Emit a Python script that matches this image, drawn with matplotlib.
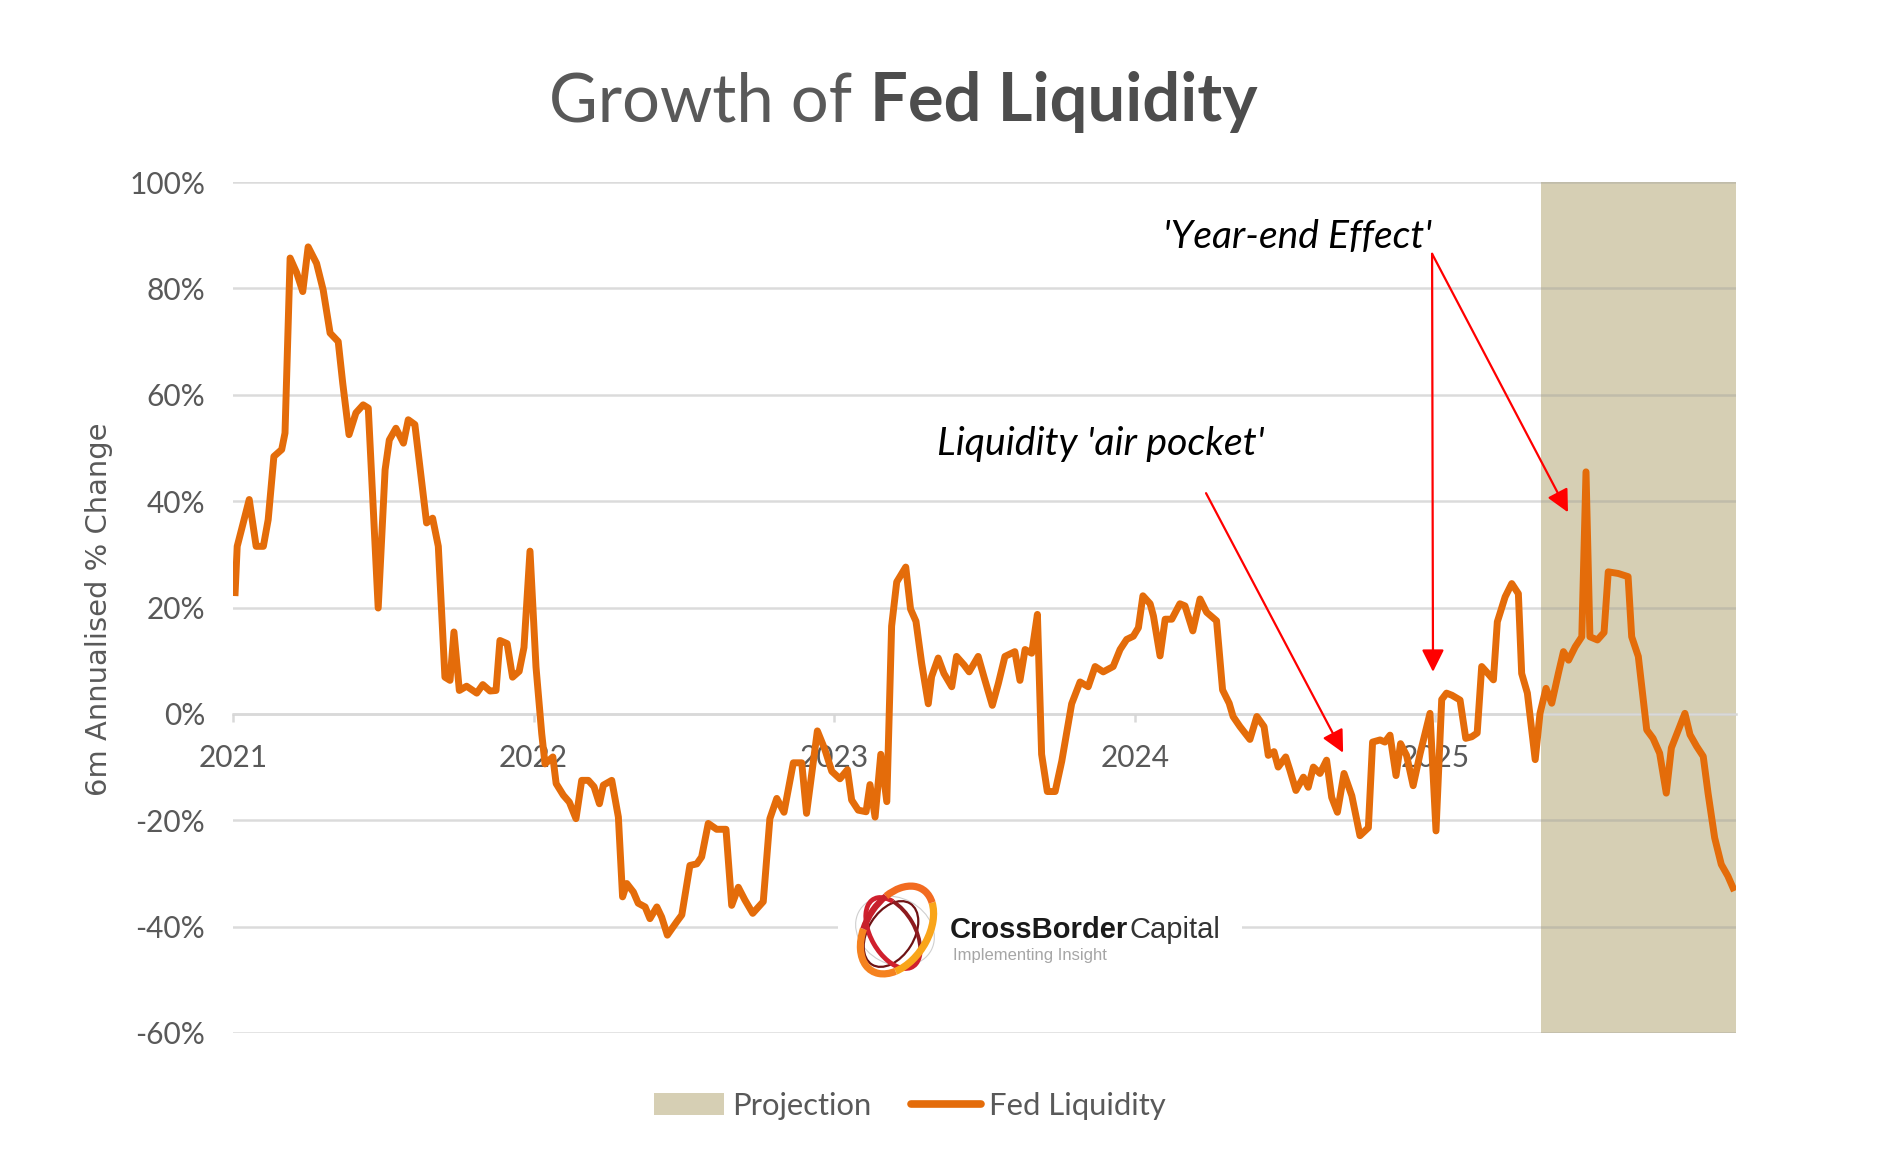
import matplotlib
matplotlib.use("Agg")
import matplotlib.pyplot as plt
from matplotlib.patches import Ellipse, Arc
from matplotlib.lines import Line2D
from matplotlib.patches import Patch

# ---------------- data ----------------
dates = [
    2021.007, 2021.014, 2021.054, 2021.077, 2021.101, 2021.117, 2021.136, 2021.162, 2021.173, 2021.190,
    2021.212, 2021.232, 2021.250, 2021.278, 2021.300, 2021.323, 2021.350, 2021.365, 2021.386, 2021.409,
    2021.433, 2021.450, 2021.483, 2021.506, 2021.520, 2021.542, 2021.567, 2021.583, 2021.605, 2021.644,
    2021.664, 2021.683, 2021.705, 2021.722, 2021.735, 2021.753, 2021.777, 2021.811, 2021.831, 2021.855,
    2021.875, 2021.888, 2021.912, 2021.930, 2021.952, 2021.968, 2021.988, 2022.008, 2022.027, 2022.038,
    2022.064, 2022.075, 2022.099, 2022.119, 2022.141, 2022.160, 2022.182, 2022.201, 2022.219, 2022.232,
    2022.260, 2022.282, 2022.296, 2022.310, 2022.332, 2022.348, 2022.371, 2022.387, 2022.410, 2022.426,
    2022.445, 2022.476, 2022.493, 2022.520, 2022.543, 2022.559, 2022.581, 2022.609, 2022.640, 2022.659,
    2022.681, 2022.703, 2022.729, 2022.764, 2022.786, 2022.809, 2022.833, 2022.864, 2022.892, 2022.908,
    2022.944, 2022.969, 2022.992, 2023.019, 2023.044, 2023.058, 2023.080, 2023.106, 2023.119, 2023.136,
    2023.155, 2023.175, 2023.191, 2023.208, 2023.238, 2023.254, 2023.272, 2023.291, 2023.313, 2023.324,
    2023.346, 2023.365, 2023.391, 2023.407, 2023.432, 2023.449, 2023.479, 2023.498, 2023.526, 2023.546,
    2023.568, 2023.601, 2023.618, 2023.635, 2023.657, 2023.676, 2023.690, 2023.709, 2023.735, 2023.757,
    2023.790, 2023.818, 2023.845, 2023.868, 2023.895, 2023.928, 2023.951, 2023.973, 2023.995, 2024.012,
    2024.027, 2024.051, 2024.062, 2024.084, 2024.101, 2024.123, 2024.150, 2024.167, 2024.193, 2024.217,
    2024.239, 2024.272, 2024.292, 2024.314, 2024.327, 2024.350, 2024.383, 2024.406, 2024.430, 2024.444,
    2024.463, 2024.477, 2024.502, 2024.516, 2024.536, 2024.561, 2024.577, 2024.594, 2024.616, 2024.638,
    2024.655, 2024.674, 2024.696, 2024.722, 2024.749, 2024.777, 2024.791, 2024.816, 2024.832, 2024.849,
    2024.869, 2024.884, 2024.904, 2024.926, 2024.949, 2024.982, 2025.002, 2025.021, 2025.037, 2025.055,
    2025.082, 2025.101, 2025.121, 2025.139, 2025.154, 2025.170, 2025.193, 2025.206, 2025.232, 2025.254,
    2025.276, 2025.287, 2025.306, 2025.332, 2025.348, 2025.368, 2025.387, 2025.409, 2025.426, 2025.443,
    2025.465, 2025.487, 2025.501, 2025.514, 2025.539, 2025.561, 2025.575, 2025.608, 2025.641, 2025.653,
    2025.675, 2025.703, 2025.724, 2025.746, 2025.768, 2025.785, 2025.830, 2025.847, 2025.869, 2025.891,
    2025.907, 2025.929, 2025.951, 2025.973, 2025.990,
]
values = [
    22.8, 31.5, 40.3, 31.5, 31.5, 36.5, 48.4, 49.7, 52.8, 85.7,
    82.9, 79.4, 87.8, 84.7, 79.7, 71.6, 70.0, 62.2, 52.5, 56.6,
    58.1, 57.5, 19.9, 45.9, 51.5, 53.7, 50.9, 55.3, 54.4, 35.9,
    36.8, 31.5, 6.9, 6.3, 15.4, 4.4, 5.2, 3.9, 5.5, 4.3,
    4.4, 13.8, 13.2, 6.9, 8.0, 12.5, 30.6, 8.8, -3.7, -9.4,
    -8.1, -13.1, -15.3, -16.6, -19.7, -12.5, -12.5, -13.7, -16.9, -13.4,
    -12.5, -19.4, -34.4, -31.9, -33.5, -35.6, -36.3, -38.5, -36.3, -38.2,
    -41.6, -39.1, -37.8, -28.5, -28.2, -26.9, -20.6, -21.7, -21.7, -36.0,
    -32.6, -35.0, -37.5, -35.3, -19.7, -15.9, -18.5, -9.2, -9.2, -18.7,
    -3.2, -6.7, -10.8, -12.2, -10.5, -16.2, -18.1, -18.4, -13.3, -19.4,
    -7.6, -16.5, 16.5, 24.8, 27.6, 19.7, 17.4, 9.5, 1.9, 7.0,
    10.5, 7.6, 5.1, 10.8, 9.2, 7.9, 10.8, 7.0, 1.6, 5.7,
    10.8, 11.7, 6.3, 12.1, 11.4, 18.7, -7.6, -14.6, -14.6, -8.9,
    1.9, 6.0, 5.1, 8.9, 7.9, 8.9, 12.1, 14.0, 14.6, 16.2,
    22.2, 20.7, 18.4, 10.9, 17.8, 17.8, 20.7, 20.3, 15.6, 21.6,
    19.1, 17.5, 4.5, 2.0, -0.5, -2.4, -4.8, -0.5, -2.4, -7.8,
    -7.1, -10.0, -8.1, -10.6, -14.4, -11.9, -13.8, -10.0, -11.2, -8.7,
    -15.7, -18.5, -11.2, -15.4, -22.9, -21.4, -5.3, -4.9, -5.3, -4.0,
    -11.6, -5.6, -7.8, -13.5, -7.5, 0.1, -22.0, 2.7, 3.9, 3.5,
    2.6, -4.6, -4.3, -3.6, 8.9, 7.9, 6.4, 17.3, 22.0, 24.5,
    22.6, 7.6, 3.9, -8.6, 0.1, 4.8, 2.0, 7.6, 11.7, 10.1,
    12.6, 14.5, 45.5, 14.5, 13.9, 15.3, 26.7, 26.4, 25.8, 14.5,
    10.8, -3.0, -4.6, -7.4, -14.9, -6.4, 0.1, -3.9, -6.1, -8.0,
    -14.9, -23.3, -28.3, -30.5, -32.7,
]
projection_start = 2025.35
projection_end = 2026.0
year_ticks = [2021, 2022, 2023, 2024, 2025]
year_labels = ["2021", "2022", "2023", "2024", "2025"]
y_ticks = [-60, -40, -20, 0, 20, 40, 60, 80, 100]
y_labels = ["-60%", "-40%", "-20%", "0%", "20%", "40%", "60%", "80%", "100%"]
series_names = ["Projection", "Fed Liquidity"]
title_regular = "Growth of"
title_bold = "Fed Liquidity"
y_title = "6m Annualised % Change"
note_yearend = "'Year-end Effect'"
note_air = "Liquidity 'air pocket'"

# ---------------- style ----------------
W, H, DPI = 1888, 1176, 100
ORANGE = "#E46C0A"
BEIGE = "#D6CFB4"
GRAY_TXT = "#595959"
GRID = "#D9D9D9"
FONT = "Lato"
TICK_FS = 21.5

fig = plt.figure(figsize=(W / DPI, H / DPI), dpi=DPI)
fig.patch.set_facecolor("white")


def fx(x):
    return x / W


def fy(y):
    return 1 - y / H


AX_L, AX_R, AX_T, AX_B = 233, 1736, 182, 1033
ax = fig.add_axes([fx(AX_L), fy(AX_B), (AX_R - AX_L) / W, (AX_B - AX_T) / H])

# spines first (set_position resets tick styling)
for s in ["left", "right", "top"]:
    ax.spines[s].set_visible(False)
ax.spines["bottom"].set_position(("data", 0))
ax.spines["bottom"].set_color(GRID)
ax.spines["bottom"].set_linewidth(1.8)
ax.spines["bottom"].set_zorder(2.5)

span = ax.axvspan(projection_start, projection_end, color=BEIGE, lw=0, zorder=1)
line, = ax.plot(dates, values, color=ORANGE, lw=5.0, zorder=3, solid_joinstyle="round")

ax.set_xlim(2021, 2026)
ax.set_ylim(-60, 100)
ax.set_axisbelow("line")
ax.yaxis.grid(True, color="#999999", alpha=0.35, lw=1.8)
ax.xaxis.grid(False)

ax.set_yticks(y_ticks)
ax.set_yticklabels(y_labels, fontfamily=FONT, fontsize=TICK_FS, color=GRAY_TXT)
ax.tick_params(axis="y", length=0, pad=20)
ax.set_xticks(year_ticks)
ax.set_xticklabels(year_labels, fontfamily=FONT, fontsize=TICK_FS, color=GRAY_TXT)
ax.tick_params(axis="x", length=6, width=1.8, color=GRID, direction="out", pad=16)

renderer = fig.canvas.get_renderer()


def fit(t, target):
    w = t.get_window_extent(renderer).width
    t.set_fontsize(t.get_fontsize() * target / w)


# title
t1 = fig.text(fx(549), fy(121), title_regular, fontfamily=FONT, fontsize=50,
              color=GRAY_TXT, ha="left", va="baseline")
t2 = fig.text(fx(549), fy(121), title_bold, fontfamily=FONT, fontweight="bold",
              fontsize=50, color="#4D4D4D", ha="left", va="baseline")
w1 = t1.get_window_extent(renderer).width
w2 = t2.get_window_extent(renderer).width
gap = 0.26 * 50 * DPI / 72
scale = 709 / (w1 + w2 + gap)
t1.set_fontsize(50 * scale)
t2.set_fontsize(50 * scale)
t2.set_x(fx(549 + (w1 + gap) * scale))

# y axis title
yt = fig.text(fx(99), fy(609), y_title, fontfamily="DejaVu Sans", fontsize=20,
              color=GRAY_TXT, rotation=90, ha="center", va="center")
fit_h = yt.get_window_extent(renderer).height
yt.set_fontsize(20 * 374 / fit_h)

# annotations
arrow_kw = dict(arrowstyle="-|>,head_length=0.4,head_width=0.2", color="#FF0000",
                lw=1.6, shrinkA=0, shrinkB=0, mutation_scale=34)
ta = ax.text(2024.541, 87.6, note_yearend, fontfamily=FONT, style="italic",
             fontsize=24, color="black", ha="center", va="baseline")
fit(ta, 269)
tb = ax.text(2023.888, 48.6, note_air, fontfamily=FONT, style="italic",
             fontsize=24, color="black", ha="center", va="baseline")
fit(tb, 328)
ax.annotate("", xy=(2024.992, 7.9), xytext=(2024.989, 86.5), arrowprops=arrow_kw, zorder=6)
ax.annotate("", xy=(2025.441, 37.9), xytext=(2024.989, 86.5), arrowprops=arrow_kw, zorder=6)
ax.annotate("", xy=(2024.693, -7.3), xytext=(2024.237, 41.5), arrowprops=arrow_kw, zorder=6)

# legend
leg = ax.legend([Patch(facecolor=BEIGE, edgecolor="none"),
                 Line2D([0], [0], color=ORANGE, lw=5.5, solid_capstyle="round")],
                series_names, loc="center", bbox_to_anchor=(fx(910), fy(1106)),
                bbox_transform=fig.transFigure, ncol=2, frameon=False,
                prop={"family": FONT, "size": 22.3}, labelcolor=GRAY_TXT,
                handlelength=2.25, handleheight=0.7, handletextpad=0.25,
                columnspacing=1.3)

# logo block
lax = fig.add_axes([fx(838), fy(985), 404 / W, 105 / H], zorder=5)
lax.set_xlim(838, 1242)
lax.set_ylim(985, 880)
lax.set_xticks([])
lax.set_yticks([])
for s in lax.spines.values():
    s.set_visible(False)
lax.patch.set_facecolor("white")
cx, cy = 894, 931
lax.add_patch(Ellipse((cx + 1, cy), 66, 82, angle=-62, fill=False, ec="#CFCFCF", lw=0.8))
lax.add_patch(Ellipse((cx - 3, cy + 3), 46, 72, angle=32, fill=False, ec="#6E1214", lw=1.6))
lax.add_patch(Arc((cx - 1, cy + 2), 44, 78, angle=-30, theta1=60, theta2=300, ec="#D0202E", lw=3.4))
lax.add_patch(Arc((cx - 1, cy + 2), 44, 78, angle=-30, theta1=300, theta2=420, ec="#8E1B1F", lw=2.8))
lax.add_patch(Arc((cx + 3, cy - 1), 62, 96, angle=32, theta1=-70, theta2=60, ec="#F9A51A", lw=5.2))
lax.add_patch(Arc((cx + 3, cy - 1), 62, 96, angle=32, theta1=60, theta2=150, ec="#F58220", lw=5.2))
lax.add_patch(Arc((cx + 3, cy - 1), 62, 96, angle=32, theta1=150, theta2=220, ec="#C8202B", lw=4.6))
lax.add_patch(Arc((cx + 3, cy - 1), 62, 96, angle=32, theta1=220, theta2=290, ec="#F26B21", lw=5.2))
lg1 = lax.text(950, 938, "CrossBorder", fontfamily="Liberation Sans", fontweight="bold",
               fontsize=21, color="#1A1A1A", ha="left", va="baseline")
wcb = lg1.get_window_extent(renderer).width
lax.text(950 + wcb + 1, 938, "Capital", fontfamily="Liberation Sans", fontsize=21,
         color="#333333", ha="left", va="baseline")
lax.text(953, 960, "Implementing Insight", fontfamily="Liberation Sans", fontsize=12,
         color="#A6A6A6", ha="left", va="baseline")

fig.savefig("out.png", dpi=DPI, facecolor="white")
